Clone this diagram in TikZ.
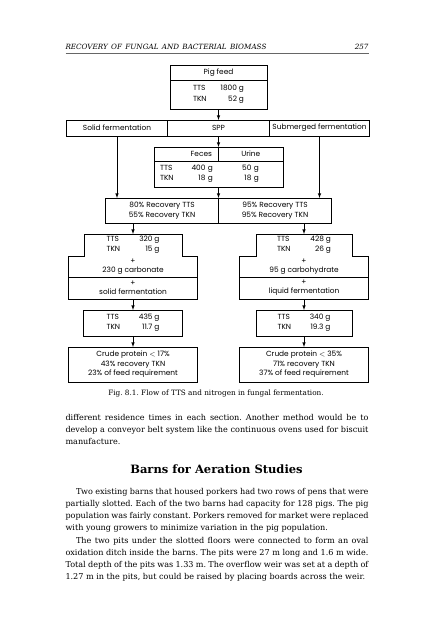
\documentclass[tikz,border=0pt]{standalone}
\usepackage{fontspec}
\setmainfont{DejaVu Serif}
\newfontfamily\flowfont{Poppins}
\usetikzlibrary{positioning}
\newcommand{\fsz}{\flowfont\fontsize{7.4}{9.5}\selectfont}
\newcommand{\tv}[3][53pt]{\makebox[#1]{#2\hfill#3}}
\frenchspacing

\begin{document}
\begin{tikzpicture}[x=1pt,y=-1pt]
\tikzstyle{box}=[rectangle, draw=black, line width=0.7pt, inner sep=0pt, outer sep=0pt, align=center, font=\fsz]
\tikzstyle{blank}=[rectangle, inner sep=0pt, outer sep=0pt, align=center, font=\fsz]
\tikzstyle{connect}=[-latex, line width=0.6pt]
\tikzstyle{page}=[inner sep=0pt, outer sep=0pt, text width=303pt, align=justify, anchor=base west]
\useasboundingbox (0,0) rectangle (421,640);

% running head
\node[page, align=left] (head) at (65.5,49.5) {\fontsize{7.2}{8}\selectfont\itshape RECOVERY OF FUNGAL AND BACTERIAL BIOMASS\hfill 257};
\draw[black!60, line width=0.5pt] (65.5,53.5) -- (368.5,53.5);

% flow chart
\node[box, minimum width=97pt, minimum height=15pt] (pighead) at (218.5,72.5) {Pig feed};
\node[box, minimum width=97pt, minimum height=29pt, below=0pt of pighead] (pigbody) {\tv[51pt]{TTS}{1800 g}\\[1pt] \tv[51pt]{TKN}{52 g}};
\node[box, minimum width=102pt, minimum height=16pt, below=11pt of pigbody] (spp) {SPP};
\node[box, minimum width=101pt, minimum height=16pt, left=0pt of spp] (solid) {Solid fermentation};
\node[box, minimum width=100pt, minimum height=16pt, right=0pt of spp] (subm) {Submerged fermentation};

\node[box, minimum width=64pt, minimum height=14pt, anchor=north east] (feces) at ([yshift=-11pt]spp.south) {\makebox[51pt][r]{Feces}};
\node[box, minimum width=64.5pt, minimum height=14pt, right=0pt of feces] (urine) {Urine};
\node[box, minimum width=129pt, minimum height=26pt, text width=117pt, inner xsep=6pt, align=left, below=0pt of feces.south east] (fubody) {\tv{TTS}{400 g}\makebox[46pt][r]{50 g}\\[1pt] \tv{TKN}{18 g}\makebox[46pt][r]{18 g}};

\node[box, minimum width=113pt, minimum height=25pt, below left=11pt and 0pt of fubody.south] (recl) {80\% Recovery TTS\\55\% Recovery TKN};
\node[box, minimum width=113pt, minimum height=25pt, right=0pt of recl] (recr) {95\% Recovery TTS\\95\% Recovery TKN};

% solid side
\node[blank, minimum width=98pt, minimum height=22pt] (ltop) at (133,245) {\tv{TTS}{320 g}\\[1pt] \tv{TKN}{15 g}};
\node[blank, minimum width=129pt, minimum height=21pt, below=0pt of ltop] (lmid) {+\\[-0.5pt]230 g carbonate};
\node[blank, minimum width=129pt, minimum height=22pt, below=0pt of lmid] (lbot) {+\\[-0.5pt]solid fermentation};
\node[box, minimum width=99pt, minimum height=26pt, below=11pt of lbot] (lres) {\tv{TTS}{435 g}\\[0.5pt] \tv{TKN}{11.7 g}};
\node[box, minimum width=129pt, minimum height=35pt, below=11pt of lres] (lfin) {Crude protein $<$ 17\%\\43\% recovery TKN\\23\% of feed requirement};

% submerged side
\node[blank, minimum width=96pt, minimum height=22pt] (rtop) at (304,245) {\tv[54pt]{TTS}{428 g}\\[1pt] \tv[54pt]{TKN}{26 g}};
\node[blank, minimum width=129pt, minimum height=21pt, below=0pt of rtop] (rmid) {+\\[-0.5pt]95 g carbohydrate};
\node[blank, minimum width=129pt, minimum height=22pt, below=0pt of rmid] (rbot) {+\\[-0.5pt]liquid fermentation};
\node[box, minimum width=96pt, minimum height=26pt, below=11pt of rbot] (rres) {\tv[53pt]{TTS}{340 g}\\[0.5pt] \tv[53pt]{TKN}{19.3 g}};
\node[box, minimum width=129pt, minimum height=35pt, below=11pt of rres] (rfin) {Crude protein $<$ 35\%\\71\% recovery TKN\\37\% of feed requirement};

% stepped outlines
\draw[line width=0.7pt] (lmid.north west) -- (ltop.south west) -- (ltop.north west) -- (ltop.north east) -- (ltop.south east) -- (lmid.north east) -- (lbot.south east) -- (lbot.south west) -- cycle;
\draw[line width=0.7pt] (lbot.north west) -- (lbot.north east);
\draw[line width=0.7pt] (rmid.north west) -- (rtop.south west) -- (rtop.north west) -- (rtop.north east) -- (rtop.south east) -- (rmid.north east) -- (rbot.south east) -- (rbot.south west) -- cycle;
\draw[line width=0.7pt] (rbot.north west) -- (rbot.north east);

\path (pigbody) edge [connect] (spp)
  (spp) edge [connect] (feces.north east)
  (fubody) edge [connect] (recl.north east)
  (solid.south) edge [connect] (solid.south |- recl.north)
  (subm.south) edge [connect] (subm.south |- recr.north)
  (recl.south -| ltop.north) edge [connect] (ltop.north)
  (recr.south -| rtop.north) edge [connect] (rtop.north)
  (lbot) edge [connect] (lres)
  (lres) edge [connect] (lfin)
  (rbot) edge [connect] (rres)
  (rres) edge [connect] (rfin);

% caption and text
\node[inner sep=0pt, anchor=base] (caption) at (216,395.5) {\fontsize{7.3}{8}\selectfont Fig.~8.1. Flow of TTS and nitrogen in fungal fermentation.};
\node[page] (para1) at (65.5,420) {\fontsize{8.1}{10.3}\selectfont different residence times in each section. Another method would be to\linebreak develop a conveyor belt system like the continuous ovens used for biscuit\linebreak manufacture.};
\node[inner sep=0pt, anchor=base] (heading) at (216.5,473.5) {\fontsize{11.5}{13}\selectfont\bfseries Barns for Aeration Studies};
\node[page] (para2) at (65.5,494) {\fontsize{8.1}{10.3}\selectfont\hspace*{10.5pt}Two existing barns that housed porkers had two rows of pens that were\linebreak partially slotted. Each of the two barns had capacity for 128 pigs. The pig\linebreak population was fairly constant. Porkers removed for market were replaced\linebreak with young growers to minimize variation in the pig population.};
\node[page] (para3) at (65.5,543) {\fontsize{8.1}{10.3}\selectfont\hspace*{10.5pt}The two pits under the slotted floors were connected to form an oval\linebreak oxidation ditch inside the barns. The pits were 27 m long and 1.6 m wide.\linebreak Total depth of the pits was 1.33 m. The overflow weir was set at a depth of\linebreak 1.27 m in the pits, but could be raised by placing boards across the weir.};
\end{tikzpicture}
\end{document}
